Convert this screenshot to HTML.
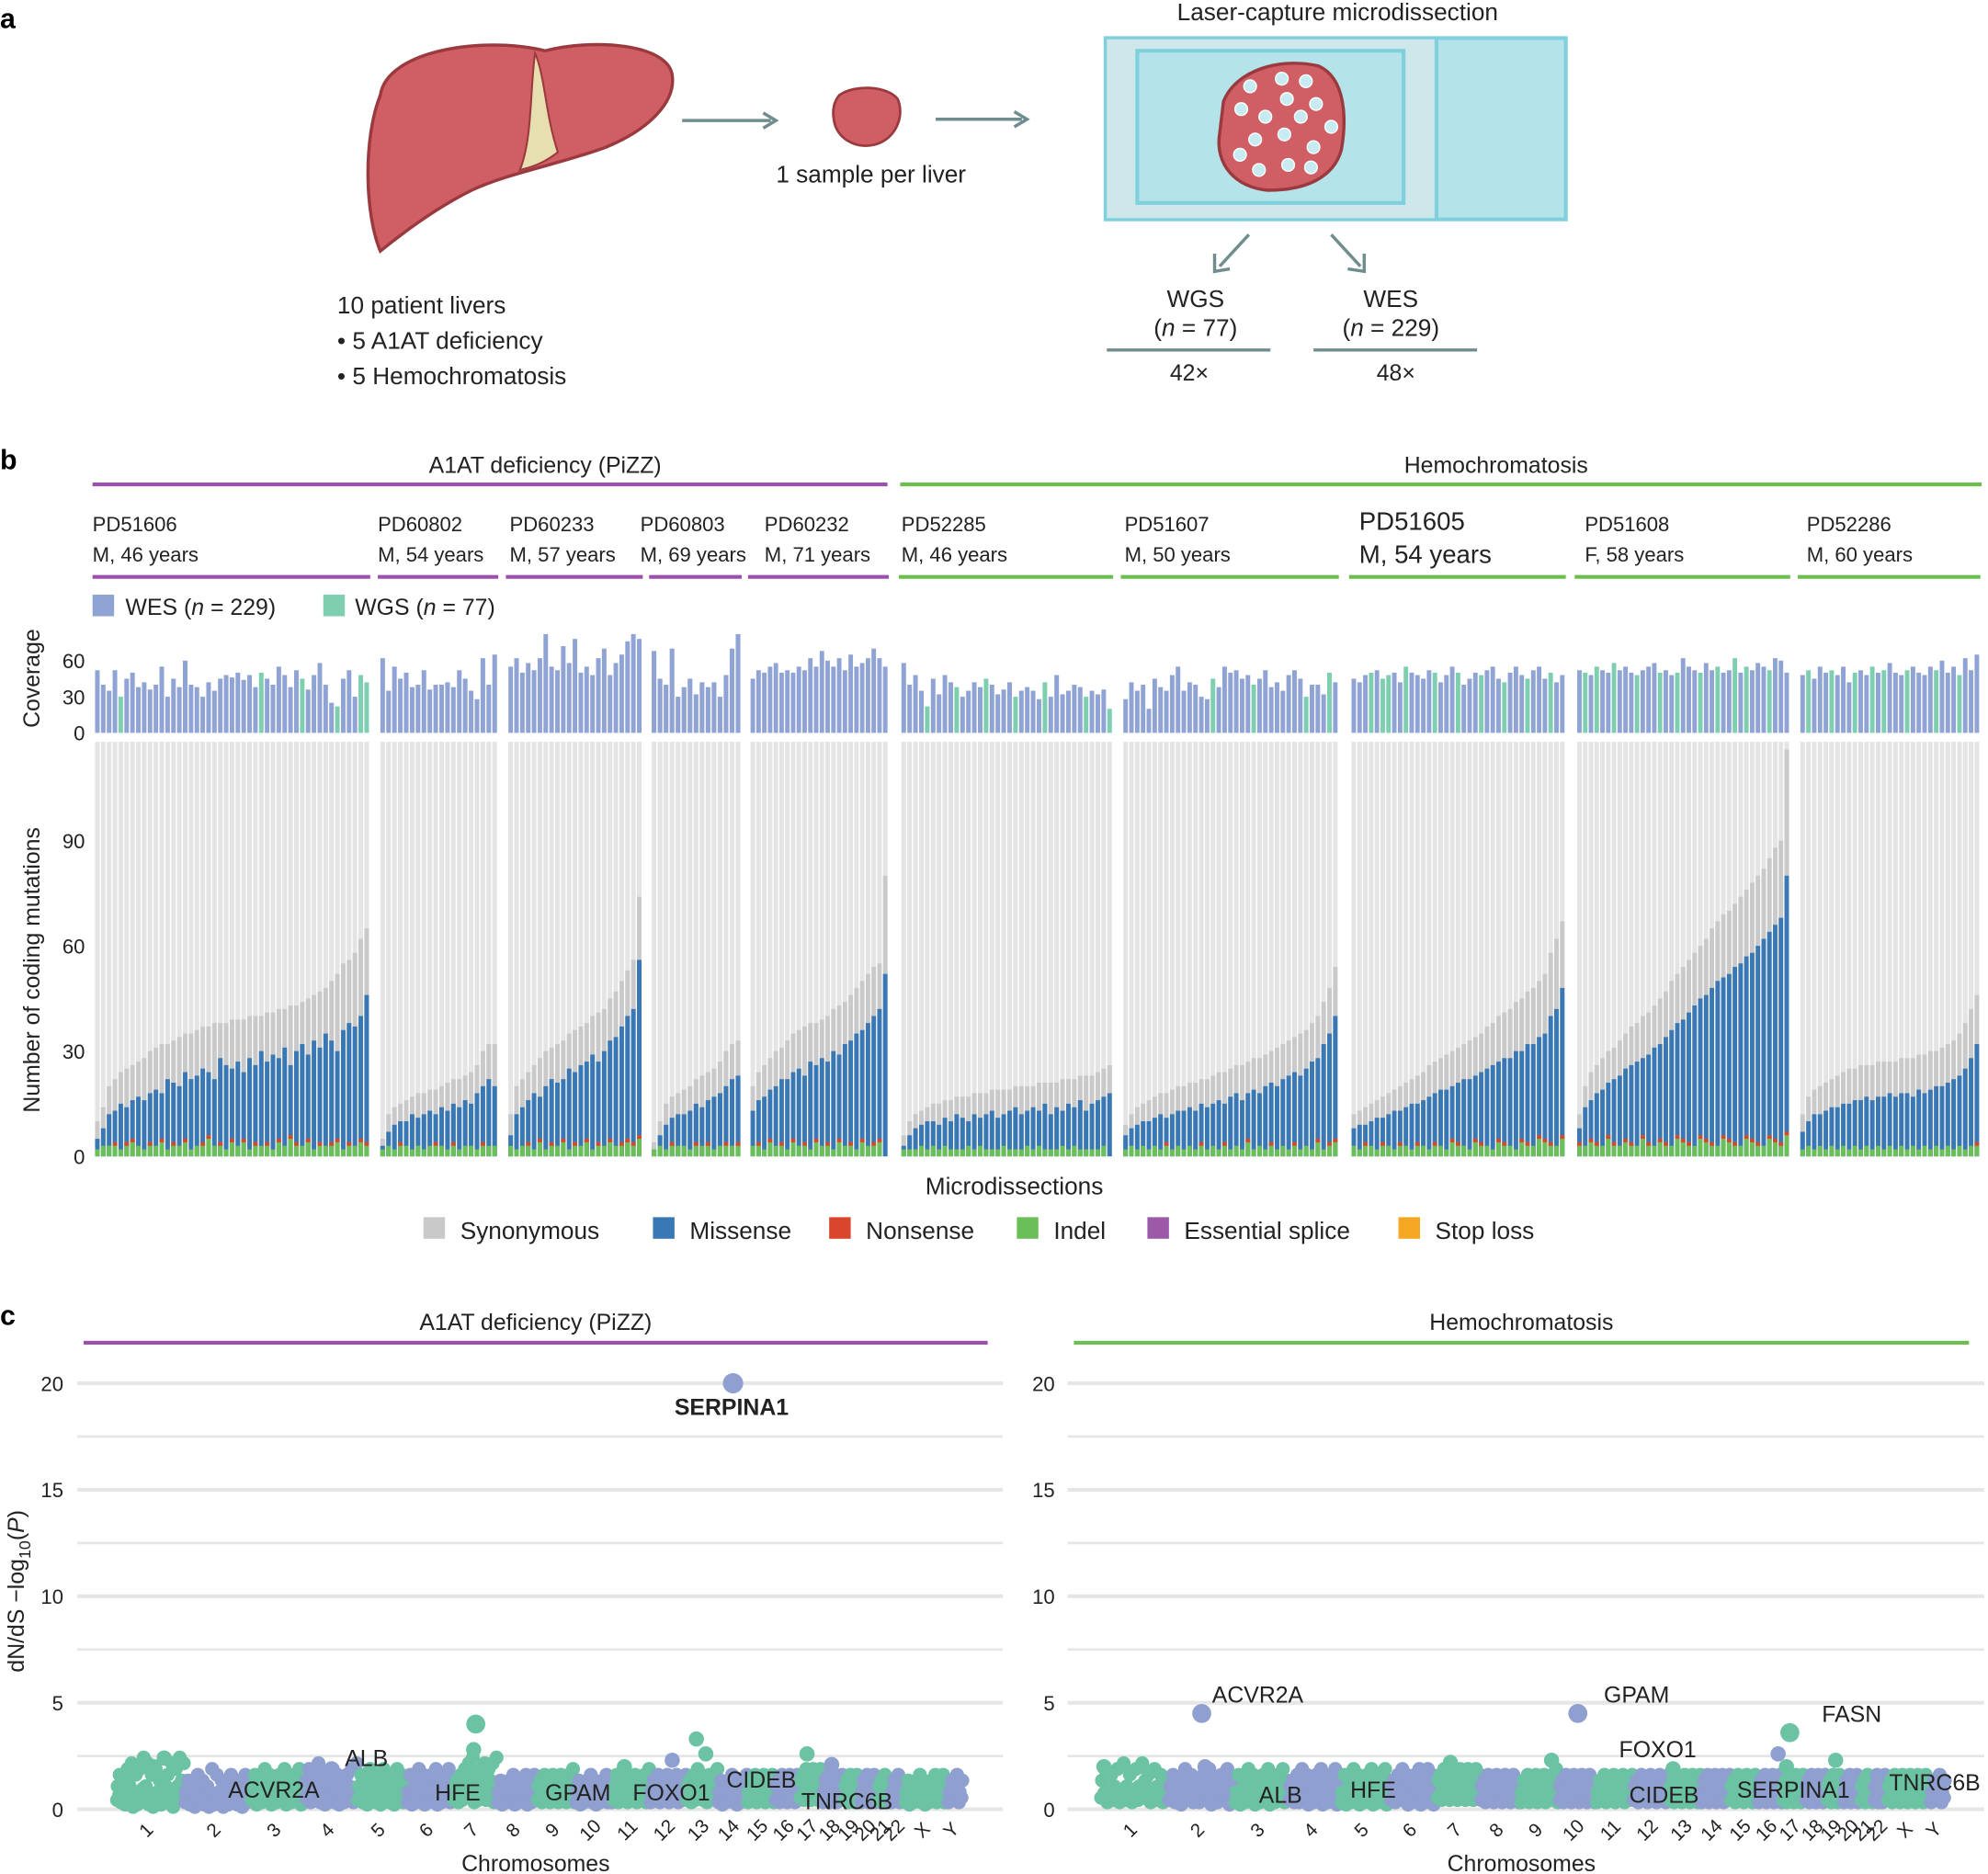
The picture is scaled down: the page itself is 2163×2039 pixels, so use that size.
<!DOCTYPE html>
<html><head><meta charset="utf-8">
<style>
html,body{margin:0;padding:0;background:#fff;}
svg{display:block;font-family:"Liberation Sans",sans-serif;}
</style></head>
<body>
<svg id="fig" width="2163" height="2039" viewBox="0 0 1568 1478" xmlns="http://www.w3.org/2000/svg">
<g>
<text x="0" y="22" font-size="22" font-weight="bold">a</text>
<path d="M300,75 C305,40 380,28 430,40 C470,30 525,35 530,58 C534,80 512,102 478,116 C440,130 402,136 372,150 C342,165 316,185 300,198 C288,170 286,110 300,75 Z" fill="#cf5f64" stroke="#9b3a3e" stroke-width="2.5"/>
<path d="M422,42 C430,60 430,90 440,120 C430,128 420,132 410,134 C420,110 418,70 422,42 Z" fill="#e7dfb0" stroke="#9b3a3e" stroke-width="1.5"/>
<path d="M662,75 C675,66 700,68 708,78 C714,92 706,110 690,114 C674,118 660,108 658,96 C656,86 658,80 662,75 Z" fill="#cf5f64" stroke="#9b3a3e" stroke-width="2"/>
<line x1="538" y1="95" x2="608" y2="95" stroke="#6f8c8f" stroke-width="2.5"/>
<path d="M602,89 L612,95 L602,101" fill="none" stroke="#6f8c8f" stroke-width="2.5"/>
<line x1="738" y1="94" x2="806" y2="94" stroke="#6f8c8f" stroke-width="2.5"/>
<path d="M800,88 L810,94 L800,100" fill="none" stroke="#6f8c8f" stroke-width="2.5"/>
<text x="687" y="144" font-size="19" text-anchor="middle" fill="#222">1 sample per liver</text>
<text x="266" y="247" font-size="19" fill="#222">10 patient livers</text>
<text x="266" y="275" font-size="19" fill="#222">• 5 A1AT deficiency</text>
<text x="266" y="303" font-size="19" fill="#222">• 5 Hemochromatosis</text>
<text x="1055" y="16" font-size="19" text-anchor="middle" fill="#222">Laser-capture microdissection</text>
<rect x="872" y="30" width="363" height="143" fill="#b5e3ea" stroke="#7fd0dc" stroke-width="3"/>
<rect x="873" y="31" width="260" height="141" fill="#cde7ea"/>
<line x1="1133" y1="30" x2="1133" y2="173" stroke="#7fd0dc" stroke-width="3"/>
<rect x="897" y="40" width="210" height="120" fill="#b5e3ea" stroke="#7fd0dc" stroke-width="3"/>
<path d="M965,80 C975,55 1010,45 1040,52 C1062,62 1062,95 1058,118 C1052,140 1030,150 1000,150 C975,148 958,130 962,105 Z" fill="#cf5f64" stroke="#9b3a3e" stroke-width="2.5"/>
<g fill="#c7ebf0" stroke="#fff" stroke-width="1">
<circle cx="986" cy="68" r="5"/><circle cx="1011" cy="62" r="5"/><circle cx="1030" cy="64" r="5"/><circle cx="1015" cy="78" r="5"/><circle cx="1038" cy="82" r="5"/><circle cx="979" cy="86" r="5"/><circle cx="998" cy="92" r="5"/><circle cx="1026" cy="92" r="5"/><circle cx="1050" cy="100" r="5"/><circle cx="1013" cy="106" r="5"/><circle cx="990" cy="110" r="5"/><circle cx="1036" cy="116" r="5"/><circle cx="978" cy="122" r="5"/><circle cx="1016" cy="130" r="5"/><circle cx="993" cy="134" r="5"/><circle cx="1034" cy="132" r="5"/>
</g>
<line x1="985" y1="185" x2="962" y2="210" stroke="#6f8c8f" stroke-width="2.5"/><path d="M958,200 L958,214 L970,212" fill="none" stroke="#6f8c8f" stroke-width="2.5"/>
<line x1="1050" y1="185" x2="1073" y2="210" stroke="#6f8c8f" stroke-width="2.5"/><path d="M1063,212 L1076,214 L1076,200" fill="none" stroke="#6f8c8f" stroke-width="2.5"/>
<text x="943" y="242" font-size="19" text-anchor="middle" fill="#222">WGS</text>
<text x="943" y="265" font-size="19" text-anchor="middle" fill="#222">(<tspan font-style="italic">n</tspan> = 77)</text>
<line x1="873" y1="276" x2="1002" y2="276" stroke="#6f8c8f" stroke-width="2.5"/>
<text x="938" y="300" font-size="18" text-anchor="middle" fill="#222">42×</text>
<text x="1097" y="242" font-size="19" text-anchor="middle" fill="#222">WES</text>
<text x="1097" y="265" font-size="19" text-anchor="middle" fill="#222">(<tspan font-style="italic">n</tspan> = 229)</text>
<line x1="1036" y1="276" x2="1165" y2="276" stroke="#6f8c8f" stroke-width="2.5"/>
<text x="1101" y="300" font-size="18" text-anchor="middle" fill="#222">48×</text>
</g>
<g id="pb"></g>
<g id="pc"></g>
</svg>
<script>
const NS="http://www.w3.org/2000/svg";
function mk(parent,tag,attrs,txt){const e=document.createElementNS(NS,tag);for(const k in attrs)e.setAttribute(k,attrs[k]);if(txt!==undefined)e.textContent=txt;parent.appendChild(e);return e;}

const patients=["PD51606","PD60802","PD60233","PD60803","PD60232","PD52285","PD51607","PD51605","PD51608","PD52286"];
const patientInfo=["M, 46 years","M, 54 years","M, 57 years","M, 69 years","M, 71 years","M, 46 years","M, 50 years","M, 54 years","F, 58 years","M, 60 years"];
const totals=[
[10,14,20,22,24,25,26,27,28,30,31,32,32,33,34,35,35,36,37,37,38,38,38,39,39,39,40,40,40,41,41,42,42,43,43,44,45,46,47,48,50,52,55,56,58,62,65],
[5,12,14,15,16,17,18,18,19,19,20,21,22,22,23,24,26,30,32,32],
[12,20,22,24,26,28,30,31,32,33,35,36,37,38,40,41,42,45,47,50,53,56,74],
[4,10,15,17,18,19,20,22,23,24,25,27,30,32,33],
[20,24,26,28,30,31,33,35,36,37,38,38,39,40,42,43,44,46,48,50,52,54,55,80],
[6,10,12,13,14,15,15,16,16,17,17,17,18,18,18,19,19,19,19,20,20,20,20,21,21,21,21,22,22,22,23,23,23,24,25,26],
[9,12,14,15,16,17,18,18,19,20,20,21,21,22,22,23,24,24,25,26,26,27,28,28,29,30,31,32,33,34,35,36,38,40,44,48,54],
[12,13,14,15,16,17,18,19,20,21,22,23,24,26,27,28,29,30,31,32,33,34,35,37,38,40,41,42,44,45,47,48,50,52,58,62,67],
[12,20,24,26,28,30,31,33,35,37,38,40,41,43,45,47,50,52,54,56,58,60,62,65,67,69,70,72,74,76,78,80,82,85,88,90,116],
[12,17,19,20,21,22,23,24,25,25,26,26,26,27,27,27,27,28,28,28,29,29,30,30,31,32,33,35,38,42,46]];
const missense=[
[5,8,12,13,15,14,16,17,16,18,19,18,22,21,20,24,22,23,25,24,22,28,26,25,27,24,28,26,30,27,29,28,31,26,30,32,29,33,31,35,33,30,36,38,37,40,46],
[3,7,9,10,10,12,11,12,13,12,14,13,15,14,16,15,18,20,22,20],
[6,12,14,16,18,17,20,22,21,22,25,24,26,27,29,27,30,33,34,37,40,42,56],
[2,6,9,11,12,12,13,15,14,16,17,18,20,22,23],
[13,16,17,19,20,22,22,24,25,23,27,26,28,27,30,29,32,33,35,36,38,40,42,52],
[3,6,8,9,10,10,9,11,10,12,11,10,12,11,12,13,11,12,13,14,12,13,14,13,15,12,14,13,15,14,16,13,15,16,17,18],
[6,8,9,10,10,11,12,11,12,13,13,14,13,15,14,15,16,15,17,18,16,18,19,18,20,21,20,22,23,24,23,25,27,28,32,35,40],
[8,9,9,10,11,11,12,13,13,14,15,15,16,17,18,19,19,20,21,22,22,23,24,25,26,27,28,28,30,30,32,32,34,35,40,42,48],
[8,14,16,18,19,21,22,23,25,26,27,28,29,31,32,34,36,38,39,41,43,45,46,48,50,51,52,54,55,57,58,60,62,64,66,68,80],
[7,10,12,12,13,14,14,15,15,16,16,17,16,17,17,18,17,18,18,17,19,18,19,20,20,21,22,23,25,28,32]];
const indels=["23342453243524352346342535243425364352434524354","23243232343242332433","32342524352435243534546","232433243423434","34253425342534253425345","22232323222323222322232322232322223","2323232423232423242325232423242325245","3243243243243243254325432543254365436","4354364354364354365436543654365436547","2323232323232323232323232323234"];
const coverage=[
[52,40,35,52,30,45,50,38,42,36,40,55,30,45,38,60,40,38,30,42,35,45,48,46,50,44,48,38,50,45,40,55,48,38,52,45,36,48,58,40,25,22,45,52,30,48,42],
[62,35,55,45,50,38,40,52,36,40,40,42,38,52,45,35,28,62,40,65],
[55,62,50,58,52,62,82,55,52,72,58,78,50,55,48,62,70,48,58,65,76,82,78],
[68,45,40,70,30,38,45,32,42,38,42,30,48,70,82],
[45,52,50,55,58,50,52,50,55,52,62,55,68,60,55,62,52,65,55,58,62,70,62,55],
[58,40,48,35,22,45,32,48,42,38,30,35,42,38,45,40,32,36,42,30,35,38,35,28,42,30,48,32,35,40,38,30,35,32,36,20],
[28,42,35,40,20,45,38,35,48,55,35,42,40,30,28,45,38,55,50,52,45,48,40,45,52,38,42,35,48,52,45,30,40,40,32,50,42],
[45,42,48,50,52,45,48,50,42,55,50,48,45,52,50,42,48,55,50,40,45,50,48,52,55,45,42,50,55,48,45,52,55,45,50,42,48],
[52,50,48,55,52,50,58,52,55,50,48,52,55,58,50,52,48,50,62,55,52,50,58,52,55,50,52,62,50,55,52,58,55,52,62,60,50],
[48,52,45,55,50,52,48,55,42,50,52,48,55,50,52,58,50,48,52,55,50,48,55,52,60,50,55,48,62,52,65]];
const wgsFlags=["00001000000000000000000000001000000100000100011","00000000000000000000","00000000000000000000000","000000000000000","000000000000000000000000","000010000100001000010000100000010001","000000000000000100000010000000010001","000101100100001000100010001000100010","010100100010001001000100100101000100","010001000100101000100001000100010001"];
const groupX=[[75,292],[300,393],[401,507],[514,585],[592,701],[711,878],[886,1056],[1066,1235],[1244,1412],[1420,1562]];
const labelX=[73,298,402,505,603,711,887,1072,1250,1425];
const covTicks=[0,30,60];
const mutTicks=[0,30,60,90];

const pb=document.getElementById('pb');
const PUR="#9b4fae",GRN="#6cbf4f";
const covY=v=>578-v*0.95;
const mutY=v=>912-v*2.767;
mk(pb,'text',{x:0,y:370,'font-size':22,'font-weight':'bold'},'b');
let t=mk(pb,'text',{x:430,y:373,'font-size':18,'text-anchor':'middle',fill:'#222'},'A1AT deficiency (PiZZ)');


t=mk(pb,'text',{x:1180,y:373,'font-size':18,'text-anchor':'middle',fill:'#222'},'Hemochromatosis');


mk(pb,'line',{x1:73,y1:382,x2:700,y2:382,stroke:PUR,'stroke-width':3});
mk(pb,'line',{x1:710,y1:382,x2:1563,y2:382,stroke:GRN,'stroke-width':3});
mk(pb,'rect',{x:73,y:469,width:17,height:17,fill:'#8fa3d4'});
t=mk(pb,'text',{x:99,y:485,'font-size':18,fill:'#222'});t.innerHTML='WES (<tspan font-style="italic">n</tspan> = 229)';


mk(pb,'rect',{x:255,y:469,width:17,height:17,fill:'#7ecfb0'});
t=mk(pb,'text',{x:280,y:485,'font-size':18,fill:'#222'});t.innerHTML='WGS (<tspan font-style="italic">n</tspan> = 77)';


t=mk(pb,'text',{x:0,y:0,'font-size':18,'text-anchor':'middle',fill:'#222',transform:'translate(31,535) rotate(-90)'},'Coverage');


t=mk(pb,'text',{x:0,y:0,'font-size':18,'text-anchor':'middle',fill:'#222',transform:'translate(31,765) rotate(-90)'},'Number of coding mutations');


covTicks.forEach(v=>{const e=mk(pb,'text',{x:67,y:covY(v)+6,'font-size':16,'text-anchor':'end',fill:'#222'},v);

});
mutTicks.forEach(v=>{const e=mk(pb,'text',{x:67,y:mutY(v)+6,'font-size':16,'text-anchor':'end',fill:'#222'},v);

});

patients.forEach((p,g)=>{
  const [x0,x1]=groupX[g];const col=g<5?PUR:GRN;
  const big=g===7;
  let e=mk(pb,'text',{x:labelX[g],y:big?418:419,'font-size':big?20:16,fill:'#222'},p);
  
  
  e=mk(pb,'text',{x:labelX[g],y:big?444:443,'font-size':big?20:16,fill:'#222'},patientInfo[g]);
  
  
  mk(pb,'line',{x1:x0-2,y1:455,x2:x1,y2:455,stroke:col,'stroke-width':3});
  const n=totals[g].length;const step=(x1-x0)/n;const w=step*0.78;
  for(let i=0;i<n;i++){
    const x=x0+i*step;
    mk(pb,'rect',{x:x,y:585,width:w,height:327,fill:'#e4e4e4'});
    const c=mk(pb,'rect',{x:x,y:covY(coverage[g][i]),width:w,height:coverage[g][i]*0.95,fill:wgsFlags[g][i]==='1'?'#7ecfb0':'#8fa3d4'});
    
    
    const tot=totals[g][i],mis=missense[g][i],ind=+indels[g][i];
    const syn=mk(pb,'rect',{x:x,y:mutY(tot),width:w,height:tot*2.767,fill:'#c9c9c9'});
    
    
    const m=mk(pb,'rect',{x:x,y:mutY(mis),width:w,height:mis*2.767,fill:'#3a78b5'});
    
    
    const id=mk(pb,'rect',{x:x,y:mutY(ind),width:w,height:ind*2.767,fill:'#6bbf59'});
    
    
    if(ind>=4){const r=mk(pb,'rect',{x:x,y:mutY(ind),width:w,height:2.767,fill:'#d9462b'});
    
    }
  }
});
t=mk(pb,'text',{x:800,y:942,'font-size':19,'text-anchor':'middle',fill:'#222'},'Microdissections');


const legNames=["Synonymous","Missense","Nonsense","Indel","Essential splice","Stop loss"];
const legCols=["#c9c9c9","#3a78b5","#d9462b","#6bbf59","#9b59a8","#f5a623"];
const legX=[334,515,654,802,905,1103];
legNames.forEach((nm,i)=>{
  mk(pb,'rect',{x:legX[i],y:960,width:17,height:17,fill:legCols[i]});
  const e=mk(pb,'text',{x:legX[i]+29,y:977,'font-size':19,fill:'#222'},nm);
  
  
});

const chroms=["1","2","3","4","5","6","7","8","9","10","11","12","13","14","15","16","17","18","19","20","21","22","X","Y"];
const chromLen=[249,243,198,191,181,171,159,146,141,136,135,134,115,107,102,90,83,80,59,64,47,51,156,57];
const yTicksC=[0,5,10,15,20];
const leftDots=["4635274816273948261735294638174958","3524163524172635142635241635","4625374625364725364725","5736483625473625364738","4635274635274635274635","3625374625364725364735","4536475869364758475839","3524354624354625364","4536453645364536473","3524354635243546353","4635463546354637","3546354635463546","4536475645364657","3524354635243546","3546354635463","4536453645364","5647564756475","3546354635464","4536453645","3546354635","4536453","3546354","3524354635243546354635","354635"];
const rightDots=["5736473846374856374635","4635274635364725364725","3625374625364725364735","4536374625364725364725","3625374625364725364725","4536474625364725374625","5647564756475647564756","4536453645364536453","3546354635463546473","4536453645364536453","3546354635463546","4536453645364536","4536453645364536","3546354635463546","4536453645364","3546354635463","4536453645364","4536453645364","4536453645","3546354635","4536453","4635364","4536453645364536453645","354635"];
const leftOut=[[0,0.7,2.4],[0,0.55,2.0],[3,0.5,1.9],[6,0.5,4.0],[6,0.45,2.8],[10,0.3,2.0],[11,0.6,2.3],[12,0.3,3.3],[12,0.6,2.6],[16,0.3,2.6],[17,0.4,2.1]];
const rightOut=[[0,0.05,2.0],[1,0.5,4.5],[1,0.55,2.0],[6,0.3,2.2],[8,0.8,2.3],[9,0.5,4.5],[12,0.1,1.9],[15,0.8,2.6],[16,0.3,3.6],[16,0.15,2.0],[18,0.5,2.3]];
const serpina=[13,0.5,20];

function panelC(x0,x1,title,col,dots,outs,labels,tickX,lineX){
  const pc=document.getElementById('pc');
  const Y=v=>1427-v*16.8;
  const total=chromLen.reduce((a,b)=>a+b,0);
  const sc=(x1-x0)/total;
  let e=mk(pc,'text',{x:(lineX[0]+lineX[1])/2,y:1049,'font-size':18,'text-anchor':'middle',fill:'#222'},title);
  
  
  mk(pc,'line',{x1:lineX[0],y1:1059,x2:lineX[1],y2:1059,stroke:col,'stroke-width':3});
  for(let v=0;v<=20;v+=2.5){mk(pc,'line',{x1:lineX[0]-5,y1:Y(v),x2:lineX[1]+12,y2:Y(v),stroke:'#e6e6e6','stroke-width':v%5===0?3:2});}
  yTicksC.forEach(v=>{const e=mk(pc,'text',{x:tickX,y:Y(v)+6,'font-size':16,'text-anchor':'end',fill:'#222'},v);
  
  });
  let cum=0;const starts=[];
  chroms.forEach((c,ci)=>{
    starts.push(cum);
    const cx0=x0+cum*sc,cw=chromLen[ci]*sc;
    const fill=ci%2===0?'#6cc3a3':'#8f9fcf';
    const s=dots[ci];
    for(let k=0;k<s.length;k++){
      const v=(+s[k])*0.27;
      const d=mk(pc,'circle',{cx:cx0+cw*(k+0.5)/s.length,cy:Y(v),r:5.5,fill:fill});
      
      
      const d2=mk(pc,'circle',{cx:cx0+cw*(k+0.2)/s.length,cy:Y(v*0.4),r:5.5,fill:fill});
      
      
    }
    const cxm=cx0+cw/2;
    const l=mk(pc,'text',{x:0,y:0,'font-size':15,fill:'#222','text-anchor':'middle',transform:`translate(${cxm},${1447}) rotate(-45)`},c);
    
    
    cum+=chromLen[ci];
  });
  outs.forEach(o=>{
    const big=o[2]>=3.5;
    const fill=o[0]%2===0?'#6cc3a3':'#8f9fcf';
    const d=mk(pc,'circle',{cx:x0+(starts[o[0]]+chromLen[o[0]]*o[1])*sc,cy:Y(o[2]),r:big?7.5:6,fill:fill});
    
    
  });
  e=mk(pc,'text',{x:(lineX[0]+lineX[1])/2,y:1476,'font-size':18,'text-anchor':'middle',fill:'#222'},'Chromosomes');
  
  
  labels.forEach(L=>{const e=mk(pc,'text',{x:L[1],y:L[2],'font-size':L[3]||18,'font-weight':L[4]||'normal',fill:'#222'},L[0]);
  
  });
  return {Y,sc,starts};
}
mk(document.getElementById('pc'),'text',{x:0,y:1045,'font-size':22,'font-weight':'bold'},'c');
const L=panelC(92,760,'A1AT deficiency (PiZZ)',PUR,leftDots,leftOut,
 [['ALB',272,1393],['ACVR2A',180,1418],['HFE',343,1420],['GPAM',430,1420],['FOXO1',499,1420],['CIDEB',573,1410],['TNRC6B',632,1427],['SERPINA1',532,1116,18,'bold']],50,[66,779]);
const sp=mk(document.getElementById('pc'),'circle',{cx:92+(L.starts[serpina[0]]+chromLen[serpina[0]]*serpina[1])*L.sc,cy:L.Y(serpina[2]),r:8,fill:'#8f9fcf'});


const t2=mk(document.getElementById('pc'),'text',{x:0,y:0,'font-size':18,'text-anchor':'middle',fill:'#222',transform:'translate(19,1255) rotate(-90)'});
t2.innerHTML='dN/dS −log<tspan font-size="13" dy="5">10</tspan><tspan dy="-5">(</tspan><tspan font-style="italic">P</tspan>)';


panelC(868,1535,'Hemochromatosis',GRN,rightDots,rightOut,
 [['ACVR2A',956,1343],['GPAM',1265,1343],['FASN',1437,1358],['FOXO1',1277,1386],['ALB',993,1422],['HFE',1065,1418],['CIDEB',1285,1422],['SERPINA1',1370,1418],['TNRC6B',1490,1412]],832,[847,1553]);
</script>
</body></html>
